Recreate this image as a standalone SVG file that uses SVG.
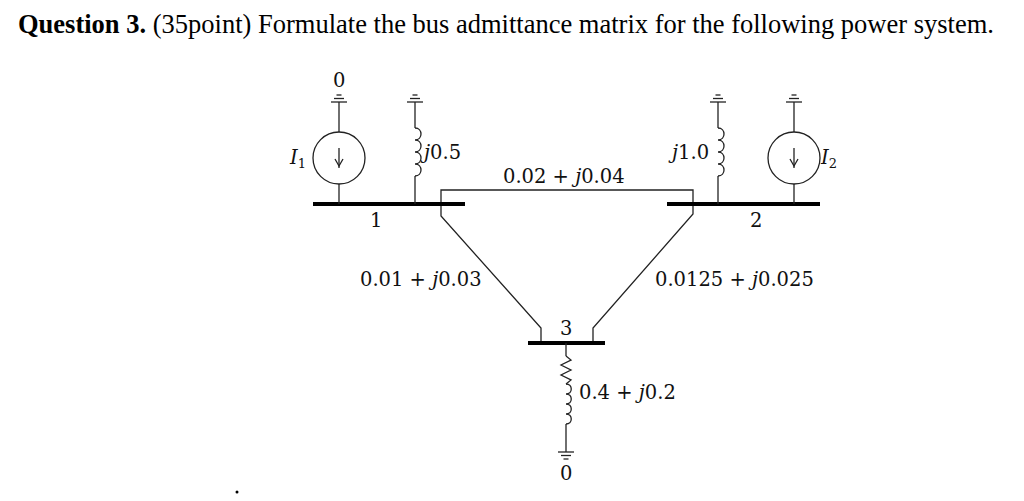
<svg xmlns="http://www.w3.org/2000/svg" width="1024" height="501" viewBox="0 0 1024 501">
<style>
.w{fill:none;stroke:#222;stroke-width:1.3}
.bus{stroke:#000;stroke-width:4}
.t{font-family:"DejaVu Serif","Liberation Serif",serif;font-size:19.5px;fill:#111}
.h{font-family:"Liberation Serif",serif;font-size:26.5px;fill:#000}
</style>
<defs>
<g id="gnd" class="w"><line x1="-8" y1="0" x2="8" y2="0"/><line x1="-5" y1="-3.5" x2="5" y2="-3.5"/><line x1="-2.5" y1="-7" x2="2.5" y2="-7"/></g>
<path id="coil" class="w" d="M0,0 c8,0 8,12 0,12 c8,0 8,12 0,12 c8,0 8,12 0,12 c8,0 8,12 0,12"/>
</defs>
<rect width="1024" height="501" fill="#fff"/>
<text class="h" x="18" y="33"><tspan font-weight="bold">Question 3.</tspan> (35point) Formulate the bus admittance matrix for the following power system.</text>
<g id="connectors" class="w">
<polyline points="441,204 441,190 693,190 693,204"/>
<polyline points="441,204 441,216 541,328 541,343"/>
<polyline points="693,204 693,214 593,328 593,343"/>
</g>
<g id="bus1"><line class="bus" x1="313" y1="204" x2="465" y2="204"/><text class="t" x="370" y="227">1</text></g>
<g id="bus2"><line class="bus" x1="667" y1="204" x2="820" y2="204"/><text class="t" x="750" y="227">2</text></g>
<g id="bus3"><line class="bus" x1="528" y1="343" x2="605" y2="343"/><text class="t" x="560" y="335">3</text></g>
<g id="src1">
<use href="#gnd" x="339" y="102"/><text class="t" x="333" y="87">0</text>
<line class="w" x1="339" y1="102" x2="339" y2="132"/><circle class="w" cx="339" cy="158" r="26"/><line class="w" x1="339" y1="184" x2="339" y2="204"/>
<line class="w" x1="339" y1="148" x2="339" y2="168"/><path class="w" d="M335,159 L339,166 L343,159"/>
<text class="t" x="290" y="164" font-style="italic">I<tspan font-size="13" dy="4" font-style="normal">1</tspan></text>
</g>
<g id="ind1">
<use href="#gnd" x="415" y="102"/><line class="w" x1="415" y1="102" x2="415" y2="128"/><use href="#coil" x="415" y="128"/><line class="w" x1="415" y1="176" x2="415" y2="204"/>
<text class="t" x="424" y="159"><tspan font-style="italic">j</tspan>0.5</text>
</g>
<g id="ind2">
<use href="#gnd" x="718" y="102"/><line class="w" x1="718" y1="102" x2="718" y2="128"/><use href="#coil" x="718" y="128"/><line class="w" x1="718" y1="176" x2="718" y2="204"/>
<text class="t" x="672" y="159"><tspan font-style="italic">j</tspan>1.0</text>
</g>
<g id="src2">
<use href="#gnd" x="794" y="102"/><line class="w" x1="794" y1="102" x2="794" y2="132"/><circle class="w" cx="794" cy="158" r="26"/><line class="w" x1="794" y1="184" x2="794" y2="204"/>
<line class="w" x1="794" y1="148" x2="794" y2="168"/><path class="w" d="M790,159 L794,166 L798,159"/>
<text class="t" x="821" y="164" font-style="italic">I<tspan font-size="13" dy="4" font-style="normal">2</tspan></text>
</g>
<g id="load3">
<line class="w" x1="566" y1="343" x2="566" y2="356"/>
<path class="w" d="M566,356 l5,4 l-10,5 l10,5 l-10,5 l10,5 l-5,4"/>
<path class="w" d="M566,384 c7,0 7,10 0,10 c7,0 7,10 0,10 c7,0 7,10 0,10 c7,0 7,10 0,10"/>
<line class="w" x1="566" y1="424" x2="566" y2="452"/>
<g class="w"><line x1="558" y1="452" x2="574" y2="452"/><line x1="561" y1="455.5" x2="571" y2="455.5"/><line x1="563.5" y1="459" x2="568.5" y2="459"/></g>
<text class="t" x="560" y="480">0</text>
<text class="t" x="579" y="399">0.4 + <tspan font-style="italic">j</tspan>0.2</text>
</g>
<text class="t" x="503" y="183">0.02 + <tspan font-style="italic">j</tspan>0.04</text>
<text class="t" x="360" y="286">0.01 + <tspan font-style="italic">j</tspan>0.03</text>
<text class="t" x="655" y="286">0.0125 + <tspan font-style="italic">j</tspan>0.025</text>
<circle cx="237" cy="492" r="1.5" fill="#000"/>
</svg>
